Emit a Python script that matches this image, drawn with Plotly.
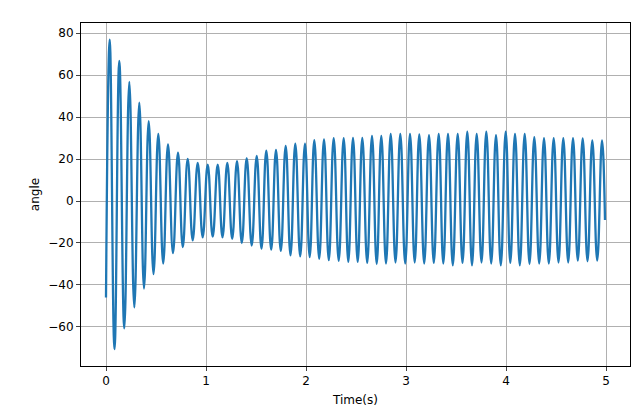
import plotly.graph_objects as go

peak_t = [0.037,0.133,0.233,0.333,0.427,0.523,0.62,0.72,0.817,0.917,1.017,1.117,1.213,1.31,1.407,1.507,1.603,1.70,1.797,1.893,1.99,2.083,2.18,2.277,2.377,2.47,
          2.563,2.66,2.753,2.847,2.943,3.04,3.133,3.23,3.327,3.42,3.517,3.613,3.707,3.803,3.9,3.997,4.09,4.187,4.283,4.38,4.477,4.573,4.67,4.767,4.863,4.96]
peak_v = [76.9,66.7,56.8,46.9,38,32,27,23,20,18.2,17.3,17.3,18.2,19,20.4,21.5,24,24.3,26.2,27.3,27.3,29,29.3,30,30,30.1,
          30.1,31,31,32,32,32,31.7,31.4,32,32,32,33,32,33,31.4,33,32,32,30.4,30,30,30,30,29.8,28.9,28.9]
trough_t = [0.085,0.183,0.283,0.38,0.475,0.572,0.67,0.768,0.867,0.967,1.067,1.165,1.262,1.358,1.457,1.555,1.652,1.748,1.845,1.942,2.037,2.132,2.228,2.327,2.423,
            2.517,2.612,2.707,2.80,2.895,2.992,3.087,3.182,3.278,3.373,3.468,3.565,3.66,3.755,3.852,3.948,4.043,4.138,4.235,4.332,4.428,4.525,4.622,4.718,4.815,4.912]
trough_v = [-70.6,-60.7,-50.7,-41.7,-34.8,-29.8,-24.8,-22,-18.8,-17.3,-17,-17.3,-18,-20,-21.2,-22.7,-23.2,-23.8,-25.9,-26.4,-26.7,-27.5,-28.2,-28.5,-29,
            -29,-29.5,-30,-29.8,-29.3,-29.8,-29.3,-29.8,-29.5,-29.8,-30.7,-29.5,-30.7,-29.3,-29.8,-30.7,-29.5,-30.7,-30,-29.8,-29.8,-29.3,-29.3,-28.4,-28.7,-28.4]
start_t, start_v = 0.0, -46
end_t, end_v = 4.99, -9

t = [start_t]; v = [start_v]
for i in range(len(peak_t)):
    t.append(peak_t[i]); v.append(peak_v[i])
    if i < len(trough_t):
        t.append(trough_t[i]); v.append(trough_v[i])
t.append(end_t); v.append(end_v)

fig = go.Figure(go.Scatter(x=t, y=v, mode="lines",
                           line=dict(color="#1f77b4", width=2.3, shape="spline", smoothing=1.3)))
ax = dict(showgrid=True, gridcolor="#b0b0b0", gridwidth=1, showline=True, linecolor="black",
          mirror=True, ticks="outside", ticklen=4, zeroline=False, automargin=False,
          tickfont=dict(family="DejaVu Sans", size=12, color="black"))
fig.update_xaxes(**ax, range=[-0.25, 5.24], tickvals=[0,1,2,3,4,5],
                 title=dict(text="Time(s)", font=dict(family="DejaVu Sans", size=12, color="black"), standoff=8))
fig.update_yaxes(**ax, range=[-78.6, 84.8], tickvals=[-60,-40,-20,0,20,40,60,80],
                 tickformat="d", title=dict(text="angle", font=dict(family="DejaVu Sans", size=12, color="black"), standoff=6))
fig.update_layout(width=640, height=409, margin=dict(l=73, r=18, t=15, b=51),
                  plot_bgcolor="white", paper_bgcolor="white", showlegend=False)
fig.write_html("out.html")
